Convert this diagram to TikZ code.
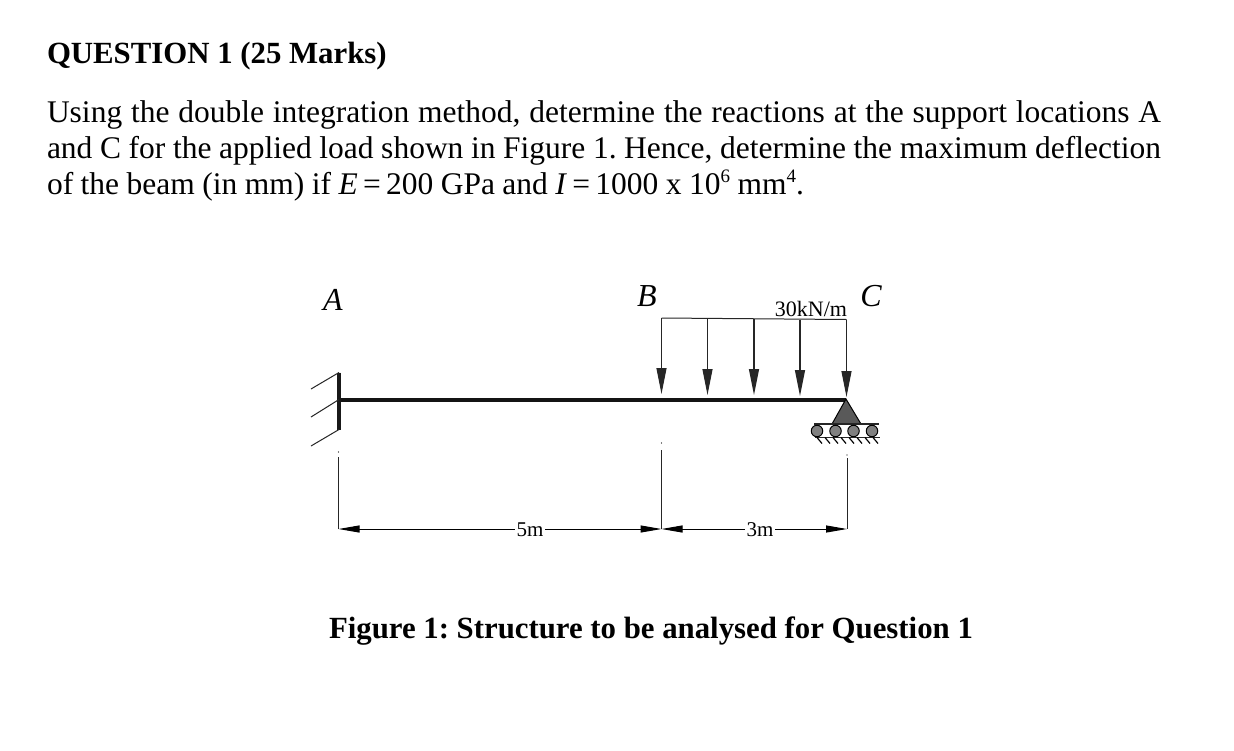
\documentclass[tikz,border=0pt]{standalone}
\usepackage{fontspec}
\setmainfont{Liberation Serif}
\usetikzlibrary{arrows.meta}
\newcommand{\supr}[1]{\raisebox{11.5pt}{\fontsize{19}{20}\selectfont #1}}
\tikzset{
  txt/.style={anchor=base west,inner sep=0pt,outer sep=0pt,font=\fontsize{31.5}{36}\selectfont\frenchspacing},
  head/.style={anchor=base west,inner sep=0pt,outer sep=0pt,font=\fontsize{30.8}{36}\selectfont\bfseries\frenchspacing},
  ptlabel/.style={inner sep=0pt,font=\fontsize{32}{36}\selectfont\itshape},
  dimlabel/.style={inner sep=1.5pt,fill=white,font=\fontsize{21}{24}\selectfont},
  beamline/.style={line width=4pt,black!92},
  thin line/.style={line width=1pt,black!85},
  loadarrow/.style={line width=1.2pt,black!85,-{Triangle[length=26pt,width=10pt]},shorten >=0pt},
  dimarrow/.style={line width=1pt,black,{Triangle[length=21pt,width=7pt]}-{Triangle[length=21pt,width=7pt]}}
}
\begin{document}
\begin{tikzpicture}[x=1pt,y=-1pt]
\useasboundingbox (0,0) rectangle (1234,750);
\fill[white] (0,0) rectangle (1234,750);
\node[head] (title) at (47,63) {QUESTION 1 (25 Marks)};
\node[txt] (l1) at (47,122) {\makebox[1114pt][s]{Using the double integration method, determine the reactions at the support locations A}};
\node[txt] (l2) at (47,158) {\makebox[1114pt][s]{and C for the applied load shown in Figure 1. Hence, determine the maximum deflection}};
\node[txt] (l3) at (47,194) {\makebox[757pt][s]{of the beam (in mm) if \textit{E}\,=\,200 GPa and \textit{I}\,=\,1000 x 10\supr{6} mm\supr{4}.}};
\node[head] (cap) at (329,638) {Figure 1: Structure to be analysed for Question 1};
\node[ptlabel] (A) at (333,300) {A};
\node[ptlabel] (B) at (647,296) {B};
\node[ptlabel] (C) at (871,296) {C};
\node[anchor=base,inner sep=0pt,font=\fontsize{22}{24}\selectfont] (q) at (811,316) {30kN/m};
% beam
\coordinate (a) at (339,399.5);
\coordinate (b) at (661.5,399.5);
\coordinate (c) at (846,399.5);
\draw[beamline,line cap=butt] (a) -- (c);
% fixed support
\coordinate (w1) at (339,372.5);
\coordinate (w2) at (339,429.5);
\draw[line width=3.6pt,black!90] (w1) -- (w2);
\coordinate (h1) at (311,389);
\coordinate (h2) at (311,417);
\coordinate (h3) at (311,446);
\draw[thin line] (w1) -- (h1);
\draw[thin line] (a) -- (h2);
\draw[thin line] (w2) -- (h3);
% load
\coordinate (t0) at (661.5,318);
\coordinate (t1) at (707.5,319);
\coordinate (t2) at (754,319);
\coordinate (t3) at (800,319.5);
\coordinate (t4) at (846.5,319.5);
\coordinate (p0) at (661.5,394);
\coordinate (p1) at (707.5,395);
\coordinate (p2) at (754,395);
\coordinate (p3) at (800,396);
\coordinate (p4) at (846.5,397);
\draw[thin line] (t0) -- (t4);
\foreach \i in {0,...,4} \draw[loadarrow] (t\i) -- (p\i);
% roller support
\coordinate (apex) at (846,399);
\coordinate (bl) at (832,424);
\coordinate (br) at (861,424);
\draw[black,fill=black!65,line width=1pt] (apex) -- (bl) -- (br) -- cycle;
\coordinate (u1) at (814,424);
\coordinate (u2) at (879,424);
\draw[thin line,line width=1.3pt] (u1) -- (u2);
\foreach \x/\n in {817/r1,835.5/r2,853.5/r3,872/r4}
  \node[circle,draw=black,line width=1pt,fill=black!50,minimum size=11.5pt,inner sep=0pt] (\n) at (\x,431) {};
\coordinate (g1) at (815,437.5);
\coordinate (g2) at (880,437.5);
\draw[thin line,line width=1.5pt] (g1) -- (g2);
\foreach \x in {817,825,833,841,849,857,865,873}
  \draw[line width=1.2pt] (\x,437.5) -- ++(5,6);
% dimensions
\coordinate (e1) at (338.5,457);
\coordinate (e2) at (661.5,450);
\coordinate (e3) at (847,458);
\coordinate (d1) at (338.5,529);
\coordinate (d2) at (661.5,529);
\coordinate (d3) at (847,529);
\draw[thin line] (e1) -- (d1);
\draw[thin line] (e2) -- (d2);
\draw[thin line] (e3) -- (d3);
\fill (338.5,452) circle (.6pt);
\fill (661.5,443) circle (.6pt);
\fill (847,455) circle (.6pt);
\draw[dimarrow] (d1) -- (d2);
\draw[dimarrow] (d2) -- (d3);
\node[dimlabel] (L1) at (530,530) {5m};
\node[dimlabel] (L2) at (760,530) {3m};
\end{tikzpicture}
\end{document}
